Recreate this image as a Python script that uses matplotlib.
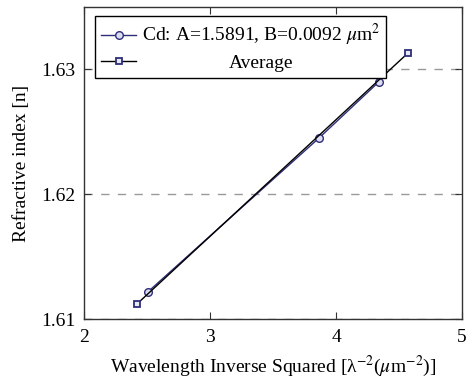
import matplotlib
matplotlib.use("Agg")
import matplotlib.pyplot as plt

plt.rcParams['font.family'] = ['Liberation Serif', 'DejaVu Serif']
plt.rcParams['mathtext.fontset'] = 'stix'

cd_x = [2.51, 3.865, 4.34]
cd_n = [1.6122, 1.6245, 1.6290]
avg_x = [2.42, 4.57]
avg_n = [1.6112, 1.6313]
cd_label = r'Cd: A=1.5891, B=0.0092 $\mu$m$^2$'
avg_label = 'Average'
xticks = [2, 3, 4, 5]
yticks = [1.61, 1.62, 1.63]

fig = plt.figure(figsize=(4.74, 3.88), dpi=100)
ax = fig.add_axes([0.1772, 0.1778, 0.7975, 0.8042])

navy = '#2e2e78'
ax.plot(cd_x, cd_n, '-', color=navy, lw=1.0, marker='o', ms=5.5,
        mfc='#dcdcf2', mec=navy, mew=1.0, label=cd_label, zorder=3)
ax.plot(avg_x, avg_n, '-', color='black', lw=1.0, marker='s', ms=5,
        mfc='#e8e8f4', mec=navy, mew=1.3, label=avg_label, zorder=3)

ax.set_xlim(2, 5)
ax.set_ylim(1.61, 1.635)
ax.set_xticks(xticks)
ax.set_yticks(yticks)
ax.set_xticklabels([str(v) for v in xticks])
ax.set_yticklabels(['%.2f' % v for v in yticks])
ax.yaxis.grid(True, linestyle=(0, (6, 6)), color='#999999', lw=1.0)
ax.tick_params(direction='in', top=True, right=True, labelsize=14, length=5,
               color='#333333')
ax.tick_params(axis='x', pad=7)
ax.tick_params(axis='y', pad=6)
for s in ax.spines.values():
    s.set_color('#333333')
    s.set_linewidth(1.0)

ax.set_xlabel('Wavelength Inverse Squared [λ$^{-2}$($\\mu$m$^{-2}$)]', fontsize=14, labelpad=6)
ax.set_ylabel('Refractive index [n]', fontsize=14, labelpad=8)

leg = ax.legend(loc='upper left', bbox_to_anchor=(0.03, 0.97), fontsize=14,
                frameon=True, fancybox=False, edgecolor='black', framealpha=1,
                handlelength=1.8, handletextpad=0.3, borderpad=0.3, labelspacing=0.3,
                borderaxespad=0)
leg.get_frame().set_linewidth(1.0)

fig.canvas.draw()
r = fig.canvas.get_renderer()
texts = leg.get_texts()
ws = [t.get_window_extent(r).width for t in texts]
mw = max(ws)
for t, w in zip(texts, ws):
    t.set_x((mw - w) / 2)

fig.savefig('out.png', dpi=100)
